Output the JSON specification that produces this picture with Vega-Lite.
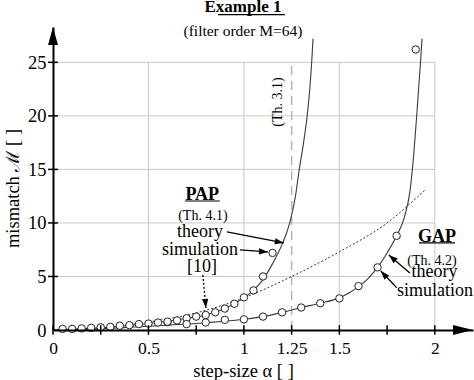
{
  "$schema": "https://vega.github.io/schema/vega-lite/v6.json",
  "width": 420,
  "height": 303,
  "autosize": {"type": "none"},
  "padding": {"left": 53, "top": 27, "right": 1, "bottom": 50},
  "background": "white",
  "config": {"view": {"stroke": null}, "font": "Liberation Serif"},
  "encoding": {
    "x": {
      "field": "a", "type": "quantitative",
      "scale": {"domain": [0, 2.2], "nice": false, "zero": false},
      "axis": {
        "values": [0, 0.5, 1, 1.25, 1.5, 2], "labelExpr": "'' + datum.value", "grid": false, "ticks": false, "tickSize": 0,
        "domainColor": "black", "domainWidth": 2, "zindex": 1,
        "labelFont": "Liberation Serif", "labelFontSize": 17.5, "labelColor": "black",
        "labelPadding": 9, "labelFlush": false, "labelOverlap": false, "labelBound": false,
        "title": "step-size α [ ]", "titleFont": "Liberation Serif", "titleFontSize": 18.5,
        "titleFontWeight": "normal", "titleColor": "black", "titleX": 190, "titleY": 40,
        "titleAlign": "center", "titleBaseline": "middle"
      }
    },
    "y": {
      "field": "m", "type": "quantitative",
      "scale": {"domain": [0, 28.3], "nice": false, "zero": false},
      "axis": {
        "values": [0, 5, 10, 15, 20, 25], "grid": false, "ticks": false, "tickSize": 0,
        "domainColor": "black", "domainWidth": 2, "zindex": 1,
        "labelFont": "Liberation Serif", "labelFontSize": 18.5, "labelColor": "black",
        "labelPadding": 7, "labelFlush": false, "labelOverlap": false, "labelBound": false,
        "title": "mismatch ℳ [ ]", "titleFont": "Liberation Serif", "titleFontSize": 18.5,
        "titleFontWeight": "normal", "titleColor": "black", "titleX": -41, "titleY": 161,
        "titleAngle": 270, "titleAlign": "center", "titleBaseline": "middle"
      }
    }
  },
  "layer": [
    {
      "data": {"values": [
        {"a": 0.5, "m": 0, "m2": 25}, {"a": 1, "m": 0, "m2": 25},
        {"a": 1.5, "m": 0, "m2": 25}, {"a": 2, "m": 0, "m2": 25}
      ]},
      "mark": {"type": "rule", "color": "#c8c8c8", "strokeWidth": 1},
      "encoding": {"y2": {"field": "m2"}}
    },
    {
      "data": {"values": [
        {"m": 5, "a": 0, "a2": 2}, {"m": 10, "a": 0, "a2": 2}, {"m": 15, "a": 0, "a2": 2},
        {"m": 20, "a": 0, "a2": 2}, {"m": 25, "a": 0, "a2": 2}
      ]},
      "mark": {"type": "rule", "color": "#c8c8c8", "strokeWidth": 1},
      "encoding": {"x2": {"field": "a2"}}
    },
    {
      "data": {"values": [{"a": 1.25, "m": 0, "m2": 25}]},
      "mark": {"type": "rule", "color": "#b4b4b4", "strokeWidth": 1.5, "strokeDash": [9, 6]},
      "encoding": {"y2": {"field": "m2"}}
    },
    {
      "data": {"values": [
        {"a": 0, "m": 0}, {"a": 0.25, "m": 0.2}, {"a": 0.5, "m": 0.75}, {"a": 0.75, "m": 1.6},
        {"a": 1.0, "m": 3.0}, {"a": 1.25, "m": 5.0}, {"a": 1.5, "m": 7.3}, {"a": 1.75, "m": 10.0},
        {"a": 1.95, "m": 13.1}
      ]},
      "mark": {"type": "line", "color": "#333333", "strokeWidth": 1, "strokeDash": [2, 2], "interpolate": "monotone"},
      "encoding": {}
    },
    {
      "data": {"values": [
        {"s": "PAP", "a": 0, "m": 0}, {"s": "PAP", "a": 0.25, "m": 0.2}, {"s": "PAP", "a": 0.5, "m": 0.6},
        {"s": "PAP", "a": 0.7, "m": 1.1}, {"s": "PAP", "a": 0.8, "m": 1.4}, {"s": "PAP", "a": 0.9, "m": 2.0},
        {"s": "PAP", "a": 1.0, "m": 3.0}, {"s": "PAP", "a": 1.05, "m": 3.7}, {"s": "PAP", "a": 1.1, "m": 4.7},
        {"s": "PAP", "a": 1.15, "m": 6.2}, {"s": "PAP", "a": 1.2, "m": 8.0}, {"s": "PAP", "a": 1.24, "m": 10.0},
        {"s": "PAP", "a": 1.27, "m": 12.5}, {"s": "PAP", "a": 1.29, "m": 15.0}, {"s": "PAP", "a": 1.31, "m": 17.2},
        {"s": "PAP", "a": 1.33, "m": 19.8}, {"s": "PAP", "a": 1.345, "m": 22.5}, {"s": "PAP", "a": 1.355, "m": 25.0},
        {"s": "PAP", "a": 1.362, "m": 27.2},
        {"s": "GAP", "a": 0, "m": 0}, {"s": "GAP", "a": 0.2, "m": 0.08}, {"s": "GAP", "a": 0.4, "m": 0.25},
        {"s": "GAP", "a": 0.6, "m": 0.45}, {"s": "GAP", "a": 0.8, "m": 0.68}, {"s": "GAP", "a": 1.0, "m": 1.0},
        {"s": "GAP", "a": 1.1, "m": 1.25}, {"s": "GAP", "a": 1.2, "m": 1.65}, {"s": "GAP", "a": 1.3, "m": 2.1},
        {"s": "GAP", "a": 1.4, "m": 2.5}, {"s": "GAP", "a": 1.5, "m": 3.0}, {"s": "GAP", "a": 1.55, "m": 3.45},
        {"s": "GAP", "a": 1.6, "m": 4.05}, {"s": "GAP", "a": 1.65, "m": 4.8}, {"s": "GAP", "a": 1.7, "m": 5.85},
        {"s": "GAP", "a": 1.75, "m": 7.2}, {"s": "GAP", "a": 1.8, "m": 8.8}, {"s": "GAP", "a": 1.84, "m": 10.5},
        {"s": "GAP", "a": 1.87, "m": 13.0}, {"s": "GAP", "a": 1.89, "m": 16.5}, {"s": "GAP", "a": 1.905, "m": 20.0},
        {"s": "GAP", "a": 1.917, "m": 23.0}, {"s": "GAP", "a": 1.925, "m": 25.0}, {"s": "GAP", "a": 1.933, "m": 27.2}
      ]},
      "mark": {"type": "line", "color": "#3a3a3a", "strokeWidth": 1.1, "interpolate": "monotone"},
      "encoding": {"detail": {"field": "s"}}
    },
    {
      "data": {"values": [
        {"a": 0.911, "m": 9.16, "a2": 1.209, "m2": 8.13},
        {"a": 0.979, "m": 7.48, "a2": 1.126, "m2": 7.29},
        {"a": 1.869, "m": 5.33, "a2": 1.759, "m2": 7.01},
        {"a": 1.801, "m": 3.93, "a2": 1.717, "m2": 5.51}
      ]},
      "mark": {"type": "rule", "color": "black", "strokeWidth": 1.3},
      "encoding": {"x2": {"field": "a2"}, "y2": {"field": "m2"}}
    },
    {
      "data": {"values": [{"a": 0.785, "m": 5.14, "a2": 0.801, "m2": 2.06}]},
      "mark": {"type": "rule", "color": "black", "strokeWidth": 1.3, "strokeDash": [2, 2]},
      "encoding": {"x2": {"field": "a2"}, "y2": {"field": "m2"}}
    },
    {
      "data": {"values": [
        {"a": 0.05, "m": 0.1}, {"a": 0.1, "m": 0.1}, {"a": 0.15, "m": 0.15}, {"a": 0.2, "m": 0.2},
        {"a": 0.25, "m": 0.25}, {"a": 0.3, "m": 0.3}, {"a": 0.35, "m": 0.4}, {"a": 0.4, "m": 0.45},
        {"a": 0.45, "m": 0.55}, {"a": 0.5, "m": 0.6}, {"a": 0.55, "m": 0.7}, {"a": 0.6, "m": 0.72},
        {"a": 0.65, "m": 0.9}, {"a": 0.7, "m": 1.1}, {"a": 0.75, "m": 1.25}, {"a": 0.8, "m": 1.4},
        {"a": 0.85, "m": 1.65}, {"a": 0.9, "m": 2.0}, {"a": 0.95, "m": 2.45}, {"a": 1.0, "m": 3.05},
        {"a": 1.05, "m": 3.7}, {"a": 1.1, "m": 5.0}, {"a": 1.15, "m": 7.2},
        {"a": 0.6, "m": 0.78}, {"a": 0.7, "m": 0.55}, {"a": 0.8, "m": 0.7}, {"a": 0.9, "m": 0.95},
        {"a": 1.0, "m": 1.0}, {"a": 1.1, "m": 1.25}, {"a": 1.2, "m": 1.65}, {"a": 1.3, "m": 2.1},
        {"a": 1.4, "m": 2.5}, {"a": 1.5, "m": 2.95}, {"a": 1.6, "m": 4.1}, {"a": 1.7, "m": 5.85},
        {"a": 1.8, "m": 8.8}, {"a": 1.9, "m": 26.2}
      ]},
      "mark": {"type": "point", "shape": "circle", "filled": false, "fill": "white", "fillOpacity": 1, "stroke": "#222222", "strokeWidth": 1, "size": 55, "opacity": 1}
    },
    {
      "data": {"values": [{"a": 1.209, "m": 8.13}]},
      "mark": {"type": "point", "shape": "M0,0L-2,-0.7L-2,0.7Z", "size": 81, "filled": true, "color": "black", "opacity": 1, "angle": 10.9}
    },
    {
      "data": {"values": [{"a": 1.126, "m": 7.29}]},
      "mark": {"type": "point", "shape": "M0,0L-2,-0.7L-2,0.7Z", "size": 81, "filled": true, "color": "black", "opacity": 1, "angle": 3.8}
    },
    {
      "data": {"values": [{"a": 0.801, "m": 2.06}]},
      "mark": {"type": "point", "shape": "M0,0L-2,-0.7L-2,0.7Z", "size": 81, "filled": true, "color": "black", "opacity": 1, "angle": 84.8}
    },
    {
      "data": {"values": [{"a": 1.759, "m": 7.01}]},
      "mark": {"type": "point", "shape": "M0,0L-2,-0.7L-2,0.7Z", "size": 81, "filled": true, "color": "black", "opacity": 1, "angle": 220.6}
    },
    {
      "data": {"values": [{"a": 1.717, "m": 5.51}]},
      "mark": {"type": "point", "shape": "M0,0L-2,-0.7L-2,0.7Z", "size": 81, "filled": true, "color": "black", "opacity": 1, "angle": 228.2}
    },
    {
      "data": {"values": [
        {"a": 0, "m": -0.45, "m2": 0.45}, {"a": 0.25, "m": -0.45, "m2": 0.45}, {"a": 0.5, "m": -0.45, "m2": 0.45},
        {"a": 0.75, "m": -0.45, "m2": 0.45}, {"a": 1, "m": -0.45, "m2": 0.45}, {"a": 1.25, "m": -0.45, "m2": 0.45},
        {"a": 1.5, "m": -0.45, "m2": 0.45}, {"a": 1.75, "m": -0.45, "m2": 0.45}, {"a": 2, "m": -0.45, "m2": 0.45}
      ]},
      "mark": {"type": "rule", "color": "black", "strokeWidth": 1.5},
      "encoding": {"y2": {"field": "m2"}}
    },
    {
      "data": {"values": [
        {"m": 5, "a": -0.026, "a2": 0.026}, {"m": 10, "a": -0.026, "a2": 0.026}, {"m": 15, "a": -0.026, "a2": 0.026},
        {"m": 20, "a": -0.026, "a2": 0.026}, {"m": 25, "a": -0.026, "a2": 0.026}
      ]},
      "mark": {"type": "rule", "color": "black", "strokeWidth": 1.5},
      "encoding": {"x2": {"field": "a2"}}
    },
    {
      "data": {"values": [{"a": 0, "m": 27.46}]},
      "mark": {"type": "point", "shape": "M0,-1L0.55,1L-0.55,1Z", "size": 324, "filled": true, "color": "black", "opacity": 1}
    },
    {
      "data": {"values": [{"a": 2.148, "m": 0}]},
      "mark": {"type": "point", "shape": "M1,0L-1,0.5L-1,-0.5Z", "size": 400, "filled": true, "color": "black", "opacity": 1}
    },
    {
      "data": {"values": [
        {"a": 0.864, "m": 29.45, "a2": 1.215},
        {"a": 0.691, "m": 12.05, "a2": 0.874},
        {"a": 1.917, "m": 8.13, "a2": 2.106}
      ]},
      "mark": {"type": "rule", "color": "black", "strokeWidth": 1.2},
      "encoding": {"x2": {"field": "a2"}}
    },
    {
      "data": {"values": [{"a": 0.995, "m": 30.15, "t": "Example 1"}]},
      "mark": {"type": "text", "font": "Liberation Serif", "fontSize": 17, "fontWeight": "bold", "color": "black", "baseline": "middle", "align": "center"},
      "encoding": {"text": {"field": "t"}}
    },
    {
      "data": {"values": [{"a": 0.995, "m": 27.92, "t": "(filter order M=64)"}]},
      "mark": {"type": "text", "font": "Liberation Serif", "fontSize": 15.5, "color": "black", "baseline": "middle", "align": "center"},
      "encoding": {"text": {"field": "t"}}
    },
    {
      "data": {"values": [
        {"a": 0.782, "m": 12.6, "t": "PAP"},
        {"a": 2.011, "m": 8.69, "t": "GAP"}
      ]},
      "mark": {"type": "text", "font": "Liberation Serif", "fontSize": 18, "fontWeight": "bold", "color": "black", "baseline": "middle", "align": "center"},
      "encoding": {"text": {"field": "t"}}
    },
    {
      "data": {"values": [
        {"a": 0.785, "m": 10.65, "t": "(Th. 4.1)"},
        {"a": 1.985, "m": 6.44, "t": "(Th. 4.2)"}
      ]},
      "mark": {"type": "text", "font": "Liberation Serif", "fontSize": 14, "color": "black", "baseline": "middle", "align": "center"},
      "encoding": {"text": {"field": "t"}}
    },
    {
      "data": {"values": [
        {"a": 0.77, "m": 9.15, "t": "theory"},
        {"a": 0.77, "m": 7.47, "t": "simulation"},
        {"a": 0.78, "m": 5.88, "t": "[10]"},
        {"a": 1.998, "m": 5.42, "t": "theory"}
      ]},
      "mark": {"type": "text", "font": "Liberation Serif", "fontSize": 18, "color": "black", "baseline": "middle", "align": "center"},
      "encoding": {"text": {"field": "t"}}
    },
    {
      "data": {"values": [{"a": 1.802, "m": 3.66, "t": "simulation"}]},
      "mark": {"type": "text", "font": "Liberation Serif", "fontSize": 18, "color": "black", "baseline": "middle", "align": "left"},
      "encoding": {"text": {"field": "t"}}
    },
    {
      "data": {"values": [{"a": 1.179, "m": 21.3, "t": "(Th. 3.1)"}]},
      "mark": {"type": "text", "font": "Liberation Serif", "fontSize": 14, "color": "black", "baseline": "middle", "align": "center", "angle": 270},
      "encoding": {"text": {"field": "t"}}
    }
  ]
}
